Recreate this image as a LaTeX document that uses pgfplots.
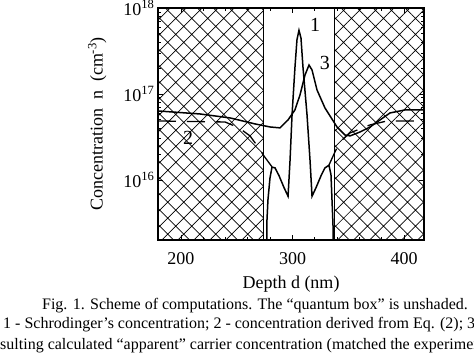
\documentclass[border=0pt]{standalone}
\usepackage{fontspec}
\setmainfont{Liberation Serif}
\usepackage{pgfplots}
\pgfplotsset{compat=1.18}
\usetikzlibrary{patterns.meta}

\begin{document}
\begin{tikzpicture}[x=1pt,y=1pt]
\begin{axis}[
  at={(158pt,114pt)}, anchor=south west,
  scale only axis, width=266pt, height=232pt,
  xmin=179.4, xmax=417.9,
  ymode=log, ymin=2e15, ymax=1e18,
  xtick={200,300,400}, xticklabels={200,300,400},
  minor x tick num=4,
  ytick={1e16,1e17,1e18},
  yticklabels={10\textsuperscript{16},10\textsuperscript{17},10\textsuperscript{18}},
  tick align=inside,
  major tick length=5pt, minor tick length=3pt,
  axis line style={line width=1.5pt},
  every tick/.style={black, line width=0.8pt},
  tick label style={font=\fontsize{18}{20}\selectfont},
  label style={font=\fontsize{18}{20}\selectfont},
  xticklabel shift=9pt,
  xlabel shift=4pt,
  ylabel shift=10pt,
  xlabel={Depth d (nm)},
  ylabel={Concentration\ \ n\ \ (cm\textsuperscript{-3})},
  axis on top,
]
% shaded (hatched) regions outside the quantum box
\addplot[draw=none, pattern={Hatch[angle=45,distance=11.3pt,line width=0.7pt]}]
  coordinates {(179.4,2e15) (273.8,2e15) (273.8,1e18) (179.4,1e18)} -- cycle;
\addplot[draw=none, pattern={Hatch[angle=45,distance=11.3pt,line width=0.7pt]}]
  coordinates {(337.7,2e15) (417.9,2e15) (417.9,1e18) (337.7,1e18)} -- cycle;
\addplot[line width=1.3pt] coordinates {(273.8,2e15) (273.8,1e18)};
\addplot[line width=1.3pt] coordinates {(337.7,2e15) (337.7,1e18)};

% curve 1: Schrodinger concentration
\addplot[line width=1.5pt] coordinates {
 (276.2,1e14) (277.1,3.39e15) (278.0,5.89e15) (279.8,1.05e16) (281.6,1.41e16)
 (284.3,1.38e16) (287.9,1.12e16) (292.4,8.13e15) (296.0,6.46e15) (297.8,1.70e16)
 (299.6,5.75e16) (302.2,2.04e17) (304.0,4.27e17) (305.8,5.50e17) (307.6,4.47e17)
 (309.4,2.04e17) (313.0,5.75e16) (315.7,1.70e16) (317.5,6.46e15) (321.1,8.13e15)
 (325.6,1.12e16) (329.1,1.38e16) (332.7,1.48e16) (334.5,1.15e16) (335.4,5.89e15)
 (336.3,3.02e15) (337.2,1e14)
};

% curve 2: concentration from Eq. (2)
\addplot[line width=1.3pt, dash pattern=on 18pt off 11pt] coordinates {
 (179.4,4.85e16) (239.5,4.72e16) (252,4.03e16) (261.9,3.25e16) (269.1,2.42e16)
 (274.4,1.90e16) (281.6,1.42e16)
};
\addplot[line width=1.3pt, dash pattern=on 18pt off 11pt] coordinates {
 (332.7,1.49e16) (338.1,2.12e16) (342.6,2.77e16) (351.6,3.52e16) (369.5,4.36e16)
 (384.8,4.85e16) (417.9,4.85e16)
};

% curve 3: apparent concentration
\addplot[line width=1.5pt] coordinates {
 (179.4,6.34e16) (217,5.85e16) (244,5.26e16) (266.4,4.48e16) (279.8,4.13e16)
 (288.8,4.03e16) (296,4.99e16) (302.2,6.52e16) (306.7,9.73e16) (311.2,1.66e17)
 (314.8,2.17e17) (317.5,1.90e17) (322,1.11e17) (329.1,6.87e16) (339.9,4.13e16)
 (347.1,3.33e16) (351.6,3.25e16) (360.5,3.61e16) (369.5,4.13e16) (387.4,6.01e16)
 (400.9,6.52e16) (417.9,6.52e16)
};

\node[font=\fontsize{20}{22}\selectfont] at (axis cs:320.2,6.3e17) {1};
\node[font=\fontsize{20}{22}\selectfont] at (axis cs:206.3,3.07e16) {2};
\node[font=\fontsize{20}{22}\selectfont] at (axis cs:329.1,2.3e17) {3};
\end{axis}

\node[anchor=base, font=\fontsize{16}{19}\selectfont] at (255pt,45pt)
  {Fig. 1. Scheme of computations. The “quantum box” is unshaded.};
\node[anchor=base west, inner sep=0pt, font=\fontsize{16}{19}\selectfont] at (3pt,26pt)
  {1 - Schrodinger’s concentration; 2 - concentration derived from Eq. (2); 3 -};
\node[anchor=base west, inner sep=0pt, font=\fontsize{16}{19}\selectfont] at (0pt,5pt)
  {\llap{re}sulting calculated “apparent” carrier concentration (matched the experiment)};

\pgfresetboundingbox
\path (0,0) rectangle (474pt,354pt);
\end{tikzpicture}
\end{document}
